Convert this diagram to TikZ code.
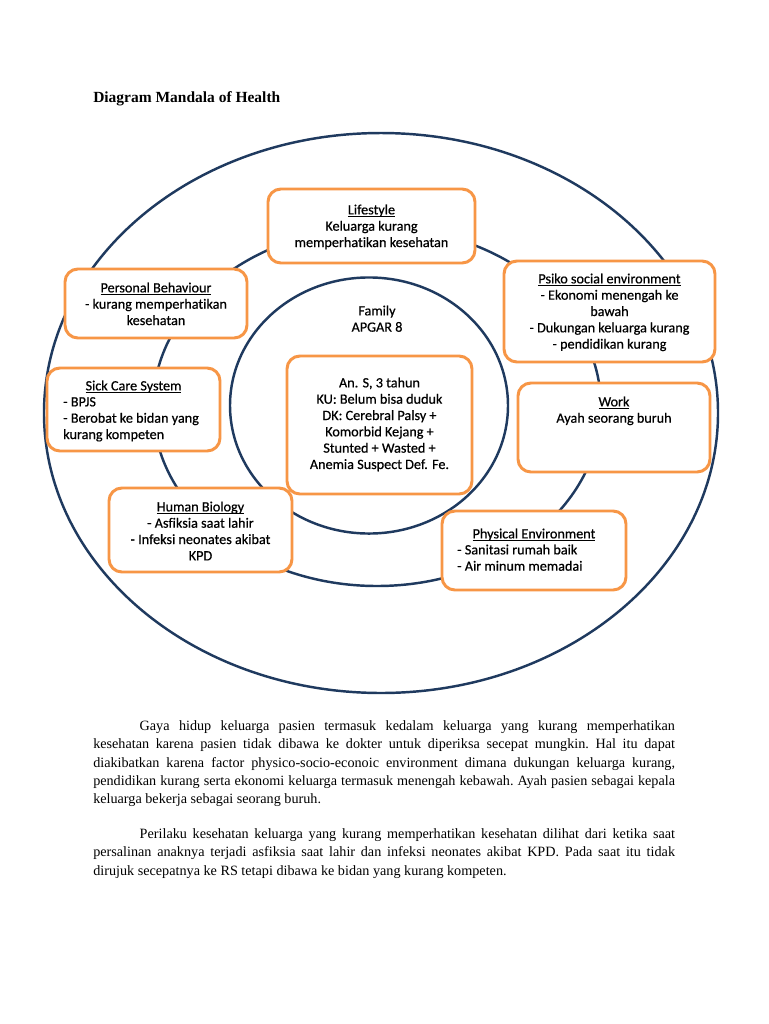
\documentclass[tikz,border=0pt]{standalone}
\usepackage{fontspec}
\setmainfont{Liberation Serif}
\newfontfamily\boxfont[FakeBold=0.55,Ligatures=NoCommon]{Carlito}
\usetikzlibrary{fit,shapes.geometric}
\definecolor{boxorange}{HTML}{F79646}
\definecolor{ringblue}{HTML}{1F3A5F}
\newcommand\ulbox[1]{\setbox0\hbox{#1}\rlap{\rule[-1.7pt]{\wd0}{0.6pt}}\box0}
\tikzset{
  ring/.style={draw=ringblue, line width=1.9pt, ellipse, inner sep=0pt},
  box/.style={draw=boxorange, line width=2.3pt, fill=white, rounded corners=10pt, inner sep=0pt},
  boxtext/.style={font=\boxfont\fontsize{11}{12.65}\selectfont, align=center, inner sep=0pt, anchor=north},
  listtext/.style={boxtext, align=left, anchor=north west},
  para/.style={font=\fontsize{11}{14.15}\selectfont, text width=451pt, align=justify, inner sep=0pt, anchor=north west},
  headline/.style={font=\bfseries\fontsize{12}{14}\selectfont, inner sep=0pt, anchor=base west}
}
\begin{document}
\begin{tikzpicture}[x=0.7752pt,y=-0.7752pt]
\fill[white] (0,0) rectangle (768,1024);
\useasboundingbox (0,0) rectangle (768,1024);

\node[headline] (title) at (93,102) {Diagram Mandala of Health};

% rings
\node[ring, minimum width=522.5pt, minimum height=434.1pt] (outer) at (381,413) {};
\node[ring, minimum width=347.3pt, minimum height=278pt] (middle) at (377,406.7) {};
\node[ring, minimum width=215.5pt, minimum height=198.5pt] (inner) at (369,405.5) {};

% boxes
\node[box, fit={(268,189) (475,263)}] (lifestyle) {};
\node[box, fit={(65,269) (247,338)}] (personal) {};
\node[box, fit={(47,368) (220,451)}] (sick) {};
\node[box, fit={(504,261) (715,362)}] (psiko) {};
\node[box, fit={(518,383) (710,472)}] (work) {};
\node[box, fit={(287,356) (472,494)}] (center) {};
\node[box, fit={(109,488) (292,572)}] (human) {};
\node[box, fit={(442,511) (626,590)}] (physical) {};

% texts
\node[boxtext] (family-t) at (377,303.7) {\strut Family\\APGAR 8};
\node[boxtext] (lifestyle-t) at (371.5,202.7) {\strut\ulbox{Lifestyle}\\Keluarga kurang\\memperhatikan kesehatan};
\node[boxtext] (personal-t) at (156,280.7) {\strut\ulbox{Personal Behaviour}\\- kurang memperhatikan\\kesehatan};
\node[boxtext] (sick-t) at (133.5,378.7) {\strut\ulbox{Sick Care System}};
\node[listtext] (sick-l) at (63,394.7) {\strut - BPJS\\- Berobat ke bidan yang\\kurang kompeten};
\node[boxtext] (psiko-t) at (609.5,271.7) {\strut\ulbox{Psiko social environment}\\- Ekonomi menengah ke\\bawah\\- Dukungan keluarga kurang\\- pendidikan kurang};
\node[boxtext] (work-t) at (614,394.7) {\strut\ulbox{Work}\\Ayah seorang buruh};
\node[boxtext] (center-t) at (379.5,375.7) {\strut An. S, 3 tahun\\KU: Belum bisa duduk\\DK: Cerebral Palsy +\\Komorbid Kejang +\\Stunted + Wasted +\\Anemia Suspect Def. Fe.};
\node[boxtext] (human-t) at (200.5,499.7) {\strut\ulbox{Human Biology}\\- Asfiksia saat lahir\\- Infeksi neonates akibat\\KPD};
\node[boxtext] (physical-t) at (534,526.7) {\strut\ulbox{Physical Environment}};
\node[listtext] (physical-l) at (457,542.7) {\strut - Sanitasi rumah baik\\- Air minum memadai};

% paragraphs
\node[para] (para1) at (93,717.5) {\frenchspacing\hyphenpenalty=10000\exhyphenpenalty=10000\hspace*{36pt}\strut Gaya hidup keluarga pasien termasuk kedalam keluarga yang kurang memperhatikan\linebreak kesehatan karena pasien tidak dibawa ke dokter untuk diperiksa secepat mungkin. Hal itu dapat\linebreak diakibatkan karena factor physico-socio-econoic environment dimana dukungan keluarga kurang,\linebreak pendidikan kurang serta ekonomi keluarga termasuk menengah kebawah. Ayah pasien sebagai kepala\linebreak keluarga bekerja sebagai seorang buruh.};
\node[para] (para2) at (93,825.5) {\frenchspacing\hyphenpenalty=10000\exhyphenpenalty=10000\hspace*{36pt}\strut Perilaku kesehatan keluarga yang kurang memperhatikan kesehatan dilihat dari ketika saat\linebreak persalinan anaknya terjadi asfiksia saat lahir dan infeksi neonates akibat KPD. Pada saat itu tidak\linebreak dirujuk secepatnya ke RS tetapi dibawa ke bidan yang kurang kompeten.};
\end{tikzpicture}
\end{document}
